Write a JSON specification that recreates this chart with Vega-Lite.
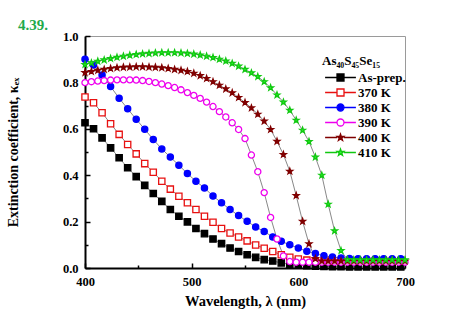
{
  "$schema": "https://vega.github.io/schema/vega-lite/v6.json",
  "width": 320,
  "height": 232,
  "autosize": {"type": "none"},
  "padding": {"left": 85, "top": 36, "right": 69, "bottom": 55},
  "background": "white",
  "view": {"stroke": "#9a9a9a", "strokeWidth": 1},
  "title": {"text": "4.39.", "anchor": "start", "frame": "group", "dx": -67, "offset": -18, "baseline": "bottom", "color": "#22a94a", "font": "Liberation Serif", "fontSize": 15, "fontWeight": "bold"},
  "data": {"values": [
    {"s":"As-prep.","x":400,"y":0.626},{"s":"As-prep.","x":408,"y":0.600},{"s":"As-prep.","x":416,"y":0.561},{"s":"As-prep.","x":424,"y":0.518},{"s":"As-prep.","x":432,"y":0.475},{"s":"As-prep.","x":440,"y":0.432},{"s":"As-prep.","x":448,"y":0.394},{"s":"As-prep.","x":456,"y":0.356},{"s":"As-prep.","x":464,"y":0.321},{"s":"As-prep.","x":472,"y":0.287},{"s":"As-prep.","x":480,"y":0.252},{"s":"As-prep.","x":488,"y":0.223},{"s":"As-prep.","x":496,"y":0.199},{"s":"As-prep.","x":504,"y":0.170},{"s":"As-prep.","x":512,"y":0.148},{"s":"As-prep.","x":520,"y":0.125},{"s":"As-prep.","x":528,"y":0.105},{"s":"As-prep.","x":536,"y":0.086},{"s":"As-prep.","x":544,"y":0.071},{"s":"As-prep.","x":552,"y":0.057},{"s":"As-prep.","x":560,"y":0.046},{"s":"As-prep.","x":568,"y":0.036},{"s":"As-prep.","x":576,"y":0.030},{"s":"As-prep.","x":584,"y":0.022},{"s":"As-prep.","x":592,"y":0.016},{"s":"As-prep.","x":600,"y":0.012},{"s":"As-prep.","x":608,"y":0.010},{"s":"As-prep.","x":616,"y":0.008},{"s":"As-prep.","x":624,"y":0.007},{"s":"As-prep.","x":632,"y":0.006},{"s":"As-prep.","x":640,"y":0.006},{"s":"As-prep.","x":648,"y":0.005},{"s":"As-prep.","x":656,"y":0.005},{"s":"As-prep.","x":664,"y":0.005},{"s":"As-prep.","x":672,"y":0.005},{"s":"As-prep.","x":680,"y":0.005},{"s":"As-prep.","x":688,"y":0.005},{"s":"As-prep.","x":696,"y":0.005},
    {"s":"370 K","x":400,"y":0.737},{"s":"370 K","x":408,"y":0.712},{"s":"370 K","x":416,"y":0.669},{"s":"370 K","x":424,"y":0.622},{"s":"370 K","x":432,"y":0.576},{"s":"370 K","x":440,"y":0.532},{"s":"370 K","x":448,"y":0.492},{"s":"370 K","x":456,"y":0.450},{"s":"370 K","x":464,"y":0.413},{"s":"370 K","x":472,"y":0.374},{"s":"370 K","x":480,"y":0.340},{"s":"370 K","x":488,"y":0.309},{"s":"370 K","x":496,"y":0.281},{"s":"370 K","x":504,"y":0.252},{"s":"370 K","x":512,"y":0.223},{"s":"370 K","x":520,"y":0.197},{"s":"370 K","x":528,"y":0.170},{"s":"370 K","x":536,"y":0.151},{"s":"370 K","x":544,"y":0.134},{"s":"370 K","x":552,"y":0.117},{"s":"370 K","x":560,"y":0.099},{"s":"370 K","x":568,"y":0.085},{"s":"370 K","x":576,"y":0.071},{"s":"370 K","x":584,"y":0.057},{"s":"370 K","x":592,"y":0.046},{"s":"370 K","x":600,"y":0.039},{"s":"370 K","x":608,"y":0.034},{"s":"370 K","x":616,"y":0.031},{"s":"370 K","x":624,"y":0.030},{"s":"370 K","x":632,"y":0.030},{"s":"370 K","x":640,"y":0.030},{"s":"370 K","x":648,"y":0.030},{"s":"370 K","x":656,"y":0.030},{"s":"370 K","x":664,"y":0.030},{"s":"370 K","x":672,"y":0.030},{"s":"370 K","x":680,"y":0.030},{"s":"370 K","x":688,"y":0.030},{"s":"370 K","x":696,"y":0.030},
    {"s":"380 K","x":400,"y":0.900},{"s":"380 K","x":408,"y":0.875},{"s":"380 K","x":416,"y":0.832},{"s":"380 K","x":424,"y":0.782},{"s":"380 K","x":432,"y":0.732},{"s":"380 K","x":440,"y":0.686},{"s":"380 K","x":448,"y":0.641},{"s":"380 K","x":456,"y":0.598},{"s":"380 K","x":464,"y":0.554},{"s":"380 K","x":472,"y":0.513},{"s":"380 K","x":480,"y":0.478},{"s":"380 K","x":488,"y":0.443},{"s":"380 K","x":496,"y":0.407},{"s":"380 K","x":504,"y":0.374},{"s":"380 K","x":512,"y":0.345},{"s":"380 K","x":520,"y":0.310},{"s":"380 K","x":528,"y":0.281},{"s":"380 K","x":536,"y":0.252},{"s":"380 K","x":544,"y":0.226},{"s":"380 K","x":552,"y":0.201},{"s":"380 K","x":560,"y":0.177},{"s":"380 K","x":568,"y":0.157},{"s":"380 K","x":576,"y":0.134},{"s":"380 K","x":584,"y":0.115},{"s":"380 K","x":592,"y":0.100},{"s":"380 K","x":600,"y":0.086},{"s":"380 K","x":608,"y":0.072},{"s":"380 K","x":616,"y":0.062},{"s":"380 K","x":624,"y":0.053},{"s":"380 K","x":632,"y":0.047},{"s":"380 K","x":640,"y":0.043},{"s":"380 K","x":648,"y":0.041},{"s":"380 K","x":656,"y":0.040},{"s":"380 K","x":664,"y":0.040},{"s":"380 K","x":672,"y":0.040},{"s":"380 K","x":680,"y":0.040},{"s":"380 K","x":688,"y":0.040},{"s":"380 K","x":696,"y":0.040},
    {"s":"390 K","x":400,"y":0.799},{"s":"390 K","x":406,"y":0.803},{"s":"390 K","x":412,"y":0.806},{"s":"390 K","x":418,"y":0.808},{"s":"390 K","x":424,"y":0.810},{"s":"390 K","x":430,"y":0.811},{"s":"390 K","x":436,"y":0.811},{"s":"390 K","x":442,"y":0.811},{"s":"390 K","x":448,"y":0.810},{"s":"390 K","x":454,"y":0.808},{"s":"390 K","x":460,"y":0.804},{"s":"390 K","x":466,"y":0.799},{"s":"390 K","x":472,"y":0.793},{"s":"390 K","x":478,"y":0.786},{"s":"390 K","x":484,"y":0.778},{"s":"390 K","x":490,"y":0.768},{"s":"390 K","x":496,"y":0.756},{"s":"390 K","x":502,"y":0.744},{"s":"390 K","x":508,"y":0.731},{"s":"390 K","x":514,"y":0.715},{"s":"390 K","x":520,"y":0.696},{"s":"390 K","x":526,"y":0.674},{"s":"390 K","x":532,"y":0.651},{"s":"390 K","x":538,"y":0.626},{"s":"390 K","x":544,"y":0.597},{"s":"390 K","x":550,"y":0.558},{"s":"390 K","x":556,"y":0.487},{"s":"390 K","x":562,"y":0.415},{"s":"390 K","x":568,"y":0.325},{"s":"390 K","x":574,"y":0.218},{"s":"390 K","x":580,"y":0.125},{"s":"390 K","x":586,"y":0.052},{"s":"390 K","x":592,"y":0.028},{"s":"390 K","x":598,"y":0.025},{"s":"390 K","x":604,"y":0.025},{"s":"390 K","x":610,"y":0.025},{"s":"390 K","x":616,"y":0.025},{"s":"390 K","x":622,"y":0.025},{"s":"390 K","x":628,"y":0.025},{"s":"390 K","x":634,"y":0.025},{"s":"390 K","x":640,"y":0.025},{"s":"390 K","x":646,"y":0.025},{"s":"390 K","x":652,"y":0.025},{"s":"390 K","x":658,"y":0.025},{"s":"390 K","x":664,"y":0.025},{"s":"390 K","x":670,"y":0.025},{"s":"390 K","x":676,"y":0.025},{"s":"390 K","x":682,"y":0.025},{"s":"390 K","x":688,"y":0.025},{"s":"390 K","x":694,"y":0.025},{"s":"390 K","x":700,"y":0.025},
    {"s":"400 K","x":400,"y":0.842},{"s":"400 K","x":406,"y":0.847},{"s":"400 K","x":412,"y":0.852},{"s":"400 K","x":418,"y":0.856},{"s":"400 K","x":424,"y":0.860},{"s":"400 K","x":430,"y":0.863},{"s":"400 K","x":436,"y":0.865},{"s":"400 K","x":442,"y":0.866},{"s":"400 K","x":448,"y":0.867},{"s":"400 K","x":454,"y":0.867},{"s":"400 K","x":460,"y":0.866},{"s":"400 K","x":466,"y":0.865},{"s":"400 K","x":472,"y":0.863},{"s":"400 K","x":478,"y":0.860},{"s":"400 K","x":484,"y":0.856},{"s":"400 K","x":490,"y":0.852},{"s":"400 K","x":496,"y":0.847},{"s":"400 K","x":502,"y":0.839},{"s":"400 K","x":508,"y":0.829},{"s":"400 K","x":514,"y":0.817},{"s":"400 K","x":520,"y":0.803},{"s":"400 K","x":526,"y":0.788},{"s":"400 K","x":532,"y":0.772},{"s":"400 K","x":538,"y":0.755},{"s":"400 K","x":544,"y":0.735},{"s":"400 K","x":550,"y":0.713},{"s":"400 K","x":556,"y":0.690},{"s":"400 K","x":562,"y":0.663},{"s":"400 K","x":568,"y":0.633},{"s":"400 K","x":574,"y":0.597},{"s":"400 K","x":580,"y":0.546},{"s":"400 K","x":586,"y":0.489},{"s":"400 K","x":592,"y":0.417},{"s":"400 K","x":598,"y":0.312},{"s":"400 K","x":604,"y":0.201},{"s":"400 K","x":610,"y":0.104},{"s":"400 K","x":616,"y":0.040},{"s":"400 K","x":622,"y":0.030},{"s":"400 K","x":628,"y":0.030},{"s":"400 K","x":634,"y":0.030},{"s":"400 K","x":640,"y":0.030},{"s":"400 K","x":646,"y":0.030},{"s":"400 K","x":652,"y":0.030},{"s":"400 K","x":658,"y":0.030},{"s":"400 K","x":664,"y":0.030},{"s":"400 K","x":670,"y":0.030},{"s":"400 K","x":676,"y":0.030},{"s":"400 K","x":682,"y":0.030},{"s":"400 K","x":688,"y":0.030},{"s":"400 K","x":694,"y":0.030},{"s":"400 K","x":700,"y":0.030},
    {"s":"410 K","x":400,"y":0.877},{"s":"410 K","x":406,"y":0.884},{"s":"410 K","x":412,"y":0.891},{"s":"410 K","x":418,"y":0.897},{"s":"410 K","x":424,"y":0.903},{"s":"410 K","x":430,"y":0.908},{"s":"410 K","x":436,"y":0.913},{"s":"410 K","x":442,"y":0.917},{"s":"410 K","x":448,"y":0.920},{"s":"410 K","x":454,"y":0.923},{"s":"410 K","x":460,"y":0.925},{"s":"410 K","x":466,"y":0.927},{"s":"410 K","x":472,"y":0.928},{"s":"410 K","x":478,"y":0.928},{"s":"410 K","x":484,"y":0.928},{"s":"410 K","x":490,"y":0.927},{"s":"410 K","x":496,"y":0.925},{"s":"410 K","x":502,"y":0.922},{"s":"410 K","x":508,"y":0.918},{"s":"410 K","x":514,"y":0.913},{"s":"410 K","x":520,"y":0.907},{"s":"410 K","x":526,"y":0.900},{"s":"410 K","x":532,"y":0.892},{"s":"410 K","x":538,"y":0.882},{"s":"410 K","x":544,"y":0.870},{"s":"410 K","x":550,"y":0.856},{"s":"410 K","x":556,"y":0.841},{"s":"410 K","x":562,"y":0.825},{"s":"410 K","x":568,"y":0.803},{"s":"410 K","x":574,"y":0.777},{"s":"410 K","x":580,"y":0.746},{"s":"410 K","x":586,"y":0.715},{"s":"410 K","x":592,"y":0.680},{"s":"410 K","x":598,"y":0.637},{"s":"410 K","x":604,"y":0.594},{"s":"410 K","x":610,"y":0.545},{"s":"410 K","x":616,"y":0.478},{"s":"410 K","x":622,"y":0.400},{"s":"410 K","x":628,"y":0.275},{"s":"410 K","x":634,"y":0.160},{"s":"410 K","x":640,"y":0.075},{"s":"410 K","x":646,"y":0.036},{"s":"410 K","x":652,"y":0.035},{"s":"410 K","x":658,"y":0.035},{"s":"410 K","x":664,"y":0.035},{"s":"410 K","x":670,"y":0.035},{"s":"410 K","x":676,"y":0.035},{"s":"410 K","x":682,"y":0.035},{"s":"410 K","x":688,"y":0.035},{"s":"410 K","x":694,"y":0.035},{"s":"410 K","x":700,"y":0.035}
  ]},
  "encoding": {
    "x": {"field": "x", "type": "quantitative", "scale": {"domain": [400, 700], "nice": false, "zero": false},
      "axis": {"title": "Wavelength, λ (nm)", "values": [400, 450, 500, 550, 600, 650, 700], "labelExpr": "datum.value % 100 === 0 ? datum.label : ''", "labelFlush": false,
        "grid": false, "domainColor": "#000", "domainWidth": 2, "tickColor": "#000", "tickWidth": 1.5,
        "tickSize": {"condition": {"test": "datum.value % 100 === 0", "value": -5}, "value": -3},
        "labelFont": "Liberation Serif", "labelFontWeight": "bold", "labelFontSize": 12.5, "labelColor": "#000", "labelPadding": 12,
        "titleFont": "Liberation Serif", "titleFontWeight": "bold", "titleFontSize": 14.5, "titleColor": "#000", "titlePadding": 7}},
    "y": {"field": "y", "type": "quantitative", "scale": {"domain": [0, 1], "nice": false},
      "axis": {"title": "Extinction coefficient, κₑₓ", "values": [0, 0.1, 0.2, 0.3, 0.4, 0.5, 0.6, 0.7, 0.8, 0.9, 1.0], "labelExpr": "(round(datum.value*10) % 2 === 0) ? format(datum.value, '.1f') : ''", "labelFlush": false,
        "grid": false, "domainColor": "#000", "domainWidth": 2, "tickColor": "#000", "tickWidth": 1.5,
        "tickSize": {"condition": {"test": "round(datum.value*10) % 2 === 0", "value": -5}, "value": -3},
        "labelFont": "Liberation Serif", "labelFontWeight": "bold", "labelFontSize": 12.5, "labelColor": "#000", "labelPadding": 12,
        "titleFont": "Liberation Serif", "titleFontWeight": "bold", "titleFontSize": 14, "titleColor": "#000", "titlePadding": 42}}
  },
  "layer": [
    {"mark": {"type": "line", "stroke": "#7a7a7a", "strokeWidth": 0.9}, "encoding": {"detail": {"field": "s"}}},
    {"mark": {"type": "point", "opacity": 1, "strokeWidth": 1.3},
     "encoding": {
       "shape": {"field": "s", "type": "nominal", "legend": null, "scale": {"domain": ["As-prep.", "370 K", "380 K", "390 K", "400 K", "410 K"], "range": ["square", "square", "circle", "circle", "M0,-1L0.235,-0.324L0.951,-0.309L0.38,0.124L0.588,0.809L0,0.4L-0.588,0.809L-0.38,0.124L-0.951,-0.309L-0.235,-0.324Z", "M0,-1L0.235,-0.324L0.951,-0.309L0.38,0.124L0.588,0.809L0,0.4L-0.588,0.809L-0.38,0.124L-0.951,-0.309L-0.235,-0.324Z"]}},
       "fill": {"field": "s", "type": "nominal", "legend": null, "scale": {"domain": ["As-prep.", "370 K", "380 K", "390 K", "400 K", "410 K"], "range": ["#000000", "#ffffff", "#0000ff", "#ffffff", "#800000", "#33ff33"]}},
       "stroke": {"field": "s", "type": "nominal", "legend": null, "scale": {"domain": ["As-prep.", "370 K", "380 K", "390 K", "400 K", "410 K"], "range": ["#000000", "#e81010", "#0000ff", "#ee00ee", "#800000", "#10c810"]}},
       "size": {"field": "s", "type": "nominal", "legend": null, "scale": {"domain": ["As-prep.", "370 K", "380 K", "390 K", "400 K", "410 K"], "range": [40, 36, 52, 44, 80, 80]}}
     }},
    {"transform": [{"filter": "datum.x > 9999"}],
     "mark": {"type": "point", "opacity": 1, "strokeWidth": 1.3},
     "encoding": {
       "shape": {"field": "s", "type": "nominal", "scale": {"domain": ["As-prep.", "370 K", "380 K", "390 K", "400 K", "410 K"], "range": ["M-4.4,0H-1M1,0H4.4M-1,-1H1V1H-1Z", "M-4.4,0H-1M1,0H4.4M-1,-1H1V1H-1Z", "M-4.4,0H-1M1,0H4.4M-1,0A1,1,0,1,0,1,0A1,1,0,1,0,-1,0Z", "M-4.4,0H-1M1,0H4.4M-1,0A1,1,0,1,0,1,0A1,1,0,1,0,-1,0Z", "M-4.4,0H-0.95M0.95,0H4.4M0,-1L0.235,-0.324L0.951,-0.309L0.38,0.124L0.588,0.809L0,0.4L-0.588,0.809L-0.38,0.124L-0.951,-0.309L-0.235,-0.324Z", "M-4.4,0H-0.95M0.95,0H4.4M0,-1L0.235,-0.324L0.951,-0.309L0.38,0.124L0.588,0.809L0,0.4L-0.588,0.809L-0.38,0.124L-0.951,-0.309L-0.235,-0.324Z"]},
         "legend": {"title": "As₄₀S₄₅Se₁₅", "orient": "none", "legendX": 237, "legendY": 19, "padding": 0,
           "titleFont": "Liberation Serif", "titleFontSize": 13, "titleFontWeight": "bold", "titleColor": "#000", "titlePadding": 3,
           "labelFont": "Liberation Serif", "labelFontSize": 13, "labelFontWeight": "bold", "labelColor": "#000",
           "symbolOffset": 12, "labelOffset": 11, "rowPadding": 1, "symbolStrokeWidth": 1.3, "symbolSize": 49, "symbolOpacity": 1}},
       "fill": {"field": "s", "type": "nominal", "title": "As₄₀S₄₅Se₁₅", "scale": {"domain": ["As-prep.", "370 K", "380 K", "390 K", "400 K", "410 K"], "range": ["#000000", "#ffffff", "#0000ff", "#ffffff", "#800000", "#33ff33"]}},
       "stroke": {"field": "s", "type": "nominal", "title": "As₄₀S₄₅Se₁₅", "scale": {"domain": ["As-prep.", "370 K", "380 K", "390 K", "400 K", "410 K"], "range": ["#000000", "#e81010", "#0000ff", "#ee00ee", "#800000", "#10c810"]}},
       "size": {"value": 49}
     }}
  ],
  "resolve": {"scale": {"shape": "independent", "fill": "independent", "stroke": "independent", "size": "independent"}}
}
